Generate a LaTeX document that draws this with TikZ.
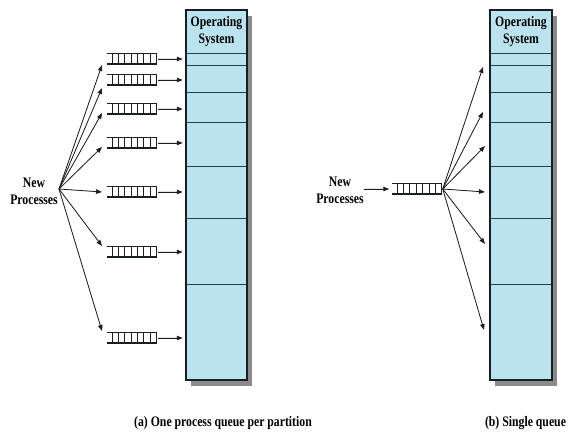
\documentclass[tikz,border=0pt]{standalone}
\usepackage{fontspec}
\setmainfont{Liberation Serif}[FakeStretch=0.81]
\usetikzlibrary{arrows.meta,backgrounds}
\definecolor{memfill}{RGB}{186,227,239}
\definecolor{partline}{RGB}{40,64,74}
\definecolor{borderc}{RGB}{24,30,34}
\definecolor{shadowgray}{RGB}{138,138,138}
\definecolor{arrcol}{RGB}{30,30,30}
\newcommand\lblfont{\fontsize{14.5}{17}\selectfont\bfseries}
\tikzset{
  lbl/.style={font=\lblfont, align=center, inner sep=0pt, outer sep=0pt, text=black},
  mempart/.style={draw=partline, line width=1pt, fill=memfill, minimum width=61.5pt, inner sep=0pt, outer sep=0pt},
  colborder/.style={draw=borderc, line width=1.6pt},
  queue/.style={minimum width=49.5pt, minimum height=10.5pt, inner sep=0pt, outer sep=0pt},
  qline/.style={draw=borderc, line width=1.5pt},
  qbar/.style={draw=borderc, line width=1pt},
  arr/.style={-{Triangle[length=6pt,width=4.5pt]}, line width=0.8pt, draw=arrcol, fill=arrcol},
}
\newcommand\memcolumn[2]{%
  \node[mempart,lbl,minimum height=44pt] (#1os) at (#2,32) {Operating\\System};
  \node[mempart,minimum height=12pt] (#1p1) at (#2,60) {};
  \node[mempart,minimum height=27pt] (#1p2) at (#2,79.5) {};
  \node[mempart,minimum height=30pt] (#1p3) at (#2,108) {};
  \node[mempart,minimum height=44pt] (#1p4) at (#2,145) {};
  \node[mempart,minimum height=52pt] (#1p5) at (#2,193) {};
  \node[mempart,minimum height=66pt] (#1p6) at (#2,252) {};
  \node[mempart,minimum height=95pt] (#1p7) at (#2,332.5) {};
  \draw[colborder] (#1os.north west) rectangle (#1p7.south east);
  \begin{scope}[on background layer]
    \fill[shadowgray] ([xshift=5pt,yshift=-6pt]#1os.north west) rectangle ([xshift=5pt,yshift=-6pt]#1p7.south east);
  \end{scope}
}
\newcommand\queueat[3]{%
  \node[queue] (#1) at (#2,#3) {};
  \draw[qline] (#1.north west) -- (#1.north east) (#1.south west) -- (#1.south east);
  \foreach \k in {0,...,7}
    \draw[qbar] ([xshift=5pt+\k*6.35pt]#1.north west) -- ([xshift=5pt+\k*6.35pt]#1.south west);
}
\begin{document}
\begin{tikzpicture}[x=1pt,y=-1pt]
\useasboundingbox (0,0) rectangle (570,435);

% ---------- (a) one queue per partition ----------
\memcolumn{L}{216.5}
\queueat{q1}{131.75}{59}
\queueat{q2}{131.75}{80}
\queueat{q3}{131.75}{109}
\queueat{q4}{131.75}{143}
\queueat{q5}{131.75}{192}
\queueat{q6}{131.75}{252}
\queueat{q7}{131.75}{338}
\foreach \i in {1,...,7}
  \draw[arr, shorten <=1.5pt, shorten >=3pt] (q\i.east) -- (q\i.east -| Lp\i.west);

\node[lbl] (lnp) at (34,191.5) {New\\Processes};
\coordinate (lfan) at (59,189);
\coordinate (lt1) at (102,65);
\coordinate (lt2) at (102,88);
\coordinate (lt3) at (102,113);
\coordinate (lt4) at (102,147);
\coordinate (lt5) at (102,192);
\coordinate (lt6) at (102,246);
\coordinate (lt7) at (102,331);
\foreach \i in {1,...,7}
  \draw[arr] (lfan) -- (lt\i);

\node[lbl, anchor=base] (capa) at (223,426) {(a) One process queue per partition};

% ---------- (b) single queue ----------
\memcolumn{R}{521}
\node[lbl] (rnp) at (340,190.5) {New\\Processes};
\queueat{rq}{417}{189}
\draw[arr, shorten >=3pt] (rnp.east |- rq.west) -- (rq.west);
\coordinate (rt1) at (483,67);
\coordinate (rt2) at (483,112);
\coordinate (rt3) at (485,146);
\coordinate (rt4) at (485,192);
\coordinate (rt5) at (485,244);
\coordinate (rt6) at (484,330);
\foreach \i in {1,...,6}
  \draw[arr] ([xshift=1pt]rq.east) -- (rt\i);

\node[lbl, anchor=base] (capb) at (525.5,426) {(b) Single queue};
\end{tikzpicture}
\end{document}
